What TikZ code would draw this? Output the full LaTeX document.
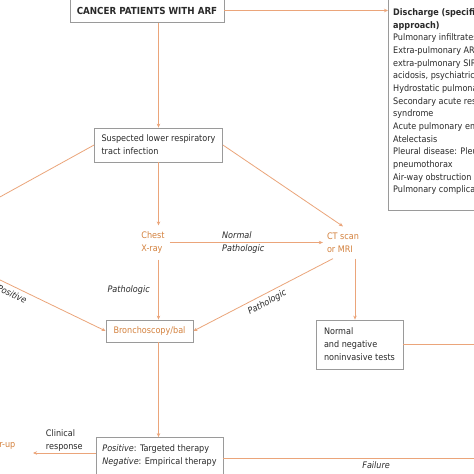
\documentclass[tikz,border=0pt]{standalone}
\usepackage{fontspec}
\setmainfont{DejaVu Sans Condensed}
\usetikzlibrary{arrows.meta}
\definecolor{ln}{HTML}{EBA57A}
\definecolor{otx}{HTML}{D4823F}
\definecolor{bx}{HTML}{9A9A9A}
\definecolor{tx}{HTML}{2A2A2A}
\begin{document}
\begin{tikzpicture}[x=1pt,y=-1pt,
  every node/.style={font=\fontsize{9}{13}\selectfont, text=tx},
  box/.style={draw=bx, line width=0.8pt, inner sep=0pt},
  tbox/.style={box, align=left},
  con/.style={draw=ln, line width=0.8pt},
  arr/.style={con, -{Stealth[length=4pt,width=3.5pt]}},
  lbl/.style={font=\fontsize{9}{13}\selectfont\itshape},
  otext/.style={text=otx}]
\useasboundingbox (0,0) rectangle (474,474);
\clip (0,0) rectangle (474,474);
\fill[white] (0,0) rectangle (474,474);

\node[box, font=\fontsize{9.7}{13}\selectfont\bfseries, minimum width=154, minimum height=24] (top) at (147,10.5) {CANCER PATIENTS WITH ARF};
\node[box, minimum width=220, minimum height=220, anchor=south west] (dis) at (388,211) {};
\node[anchor=north west, align=left, inner sep=0pt, font=\fontsize{9}{12.66}\selectfont] (distext) at (393,8.5)
 {\textbf{Discharge (specific}\\ \textbf{approach)}\\
  Pulmonary infiltrates\\
  Extra-pulmonary ARF:\\
  extra-pulmonary SIRS,\\
  acidosis, psychiatric\\
  Hydrostatic pulmonary edema\\
  Secondary acute respiratory distress\\
  syndrome\\
  Acute pulmonary embolism\\
  Atelectasis\\
  Pleural disease: Pleural effusion,\\
  pneumothorax\\
  Air-way obstruction\\
  Pulmonary complications};

\node[tbox, minimum width=128, minimum height=34] (susp) at (158.5,145) {Suspected lower respiratory\\tract infection};
\node[otext, align=left, inner xsep=5pt, inner ysep=6pt] (chest) at (153,242.5) {Chest\\X-ray};
\node[otext, align=left, inner xsep=4pt, inner ysep=6pt] (ct) at (343,242.5) {CT scan\\or MRI};
\node[box, otext, minimum width=87, minimum height=22] (bron) at (149.5,331) {Bronchoscopy/bal};
\node[tbox, minimum width=87, minimum height=49] (norm) at (359.5,344.5) {Normal\\and negative\\noninvasive tests};
\node[tbox, minimum width=127, minimum height=37] (ther) at (159.5,456) {\textit{Positive}: Targeted therapy\\\textit{Negative}: Empirical therapy};
\node[otext, anchor=east, inner sep=0pt] (fol) at (15.5,446) {r-up};

\coordinate (offL1) at (-40,219);
\coordinate (offL2) at (-40,260.6);
\coordinate (offR1) at (520,344.5);
\coordinate (offR2) at (520,458);
\coordinate (folend) at ([xshift=17.5pt]fol.east);
\coordinate (tw) at ([yshift=3pt]ther.west);
\coordinate (te) at ([yshift=-2pt]ther.east);

\draw[arr] (top.east) -- (top.east -| dis.west);
\draw[arr] (susp.north |- top.south) -- (susp.north);
\draw[arr] (susp.south) -- (susp.south |- chest.north);
\draw[arr] (susp.east) -- (ct.north);
\draw[arr] (chest.east) -- node[lbl, pos=0.48, align=left] {Normal\\Pathologic} (ct.west);
\draw[arr] (susp.south |- chest.south) -- node[lbl, left, xshift=-5pt] {Pathologic} (susp.south |- bron.north);
\draw[arr] ([xshift=-10pt]ct.south) -- node[lbl, pos=0.5, rotate=28, anchor=north, inner sep=4pt] {Pathologic} (bron.east);
\draw[arr] ([xshift=12pt]ct.south) -- ([xshift=12pt]ct.south |- norm.north);
\draw[con] (norm.east) -- (offR1);
\draw[arr] (susp.south |- bron.south) -- (susp.south |- ther.north);
\draw[arr] (tw) -- node[above, align=left, inner sep=1.5pt] {Clinical\\response} (tw -| folend);
\draw[con] (te) -- node[lbl, below, pos=0.515, inner sep=3pt] {Failure} (te -| offR2);
\draw[con] (susp.west) -- (offL1);
\draw[arr] (offL2) -- node[lbl, pos=0.38, rotate=-26, anchor=north, inner sep=3.5pt] {Positive} (bron.west);
\end{tikzpicture}
\end{document}
